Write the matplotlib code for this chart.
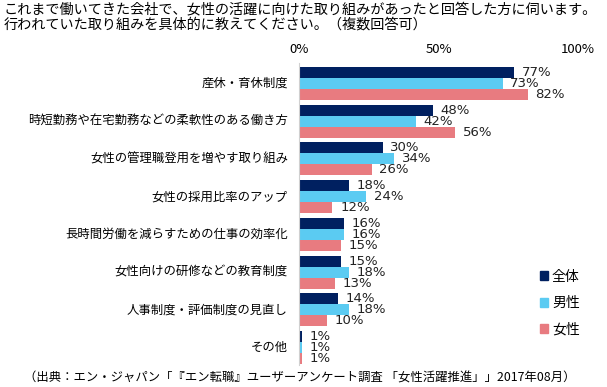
import numpy as np
import matplotlib
matplotlib.use('Agg')
import matplotlib.pyplot as plt
from matplotlib.patches import Patch

plt.rcParams['font.family'] = ['Noto Sans CJK JP', 'DejaVu Sans']

categories = ['産休・育休制度', '時短勤務や在宅勤務などの柔軟性のある働き方', '女性の管理職登用を増やす取り組み',
              '女性の採用比率のアップ', '長時間労働を減らすための仕事の効率化', '女性向けの研修などの教育制度',
              '人事制度・評価制度の見直し', 'その他']
series_names = ['全体', '男性', '女性']
total = [77, 48, 30, 18, 16, 15, 14, 1]
male = [73, 42, 34, 24, 16, 18, 18, 1]
female = [82, 56, 26, 12, 15, 13, 10, 1]
tick_vals = [0, 50, 100]
tick_labels = ['0%', '50%', '100%']

colors = ['#002060', '#5BCBF2', '#E87B80']

W, H = 607, 387
fig = plt.figure(figsize=(W / 100, H / 100), dpi=100)
ax = fig.add_axes([299 / W, (H - 365) / H, (578 - 299) / W, 302 / H])

y = np.arange(len(categories))
bh = 0.292
for k, vals in enumerate([total, male, female]):
    pos = y + (k - 1) * bh + 0.04
    ax.barh(pos, vals, height=bh, color=colors[k], label=series_names[k])
    for p, v in zip(pos, vals):
        ax.annotate(f'{v}%', (v, p), xytext=(5.5, 0), textcoords='offset points',
                    va='center', ha='left', fontsize=9.5, color='#222222',
                    family='DejaVu Sans')

ax.set_xlim(0, 100)
ax.set_ylim(len(categories) - 0.5, -0.5)
ax.set_yticks(y)
ax.set_yticklabels(categories, fontsize=8.9)
ax.set_xticks(tick_vals)
ax.set_xticklabels(tick_labels, fontsize=9.5)
ax.xaxis.tick_top()
ax.tick_params(length=0, pad=8)
ax.tick_params(axis='x', pad=5)
for s in ['top', 'right', 'bottom']:
    ax.spines[s].set_visible(False)
ax.spines['left'].set_color('#D0D0D0')

fig.text(4 / W, 1 - 9 / H, 'これまで働いてきた会社で、女性の活躍に向けた取り組みがあったと回答した方に伺います。',
         fontsize=10.2, va='center', ha='left')
fig.text(4 / W, 1 - 24 / H, '行われていた取り組みを具体的に教えてください。（複数回答可）',
         fontsize=10.2, va='center', ha='left')
fig.text(576 / W, 1 - 378 / H, '（出典：エン・ジャパン「『エン転職』ユーザーアンケート調査 「女性活躍推進」」2017年08月）',
         fontsize=8.9, va='center', ha='right')

handles = [Patch(color=c) for c in colors]
fig.legend(handles, series_names, loc='center left', bbox_to_anchor=(527 / W, 1 - 303 / H),
           frameon=False, fontsize=10, handlelength=0.6, handleheight=0.6,
           handletextpad=0.3, labelspacing=0.9)

fig.savefig('out.png', dpi=100)
